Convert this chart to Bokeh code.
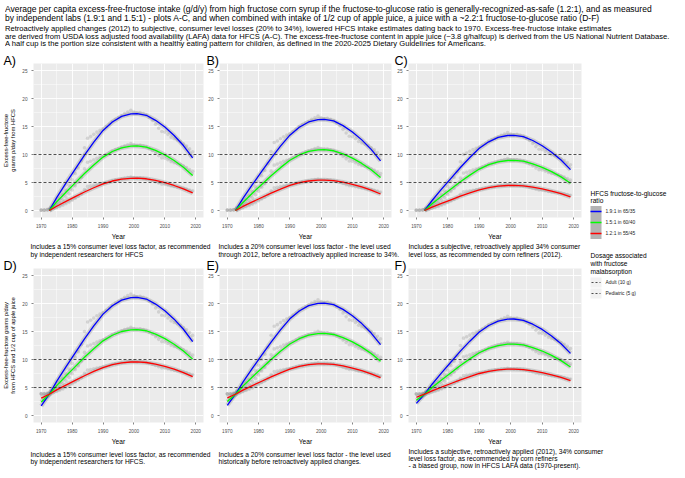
from bokeh.plotting import figure
from bokeh.models import Range1d, FixedTicker, Div, Span, Title
from bokeh.layouts import column, row
from bokeh.embed import file_html
from bokeh.resources import INLINE
from bokeh.core.properties import value

FONT = "Liberation Sans"

# ---------------- data ----------------
years = list(range(1970, 2020))
# excess-free fructose, g/day, 1.9:1 HFCS with 15% loss (panel A, blue points)
excess_19_loss15 = [0.1, 0.1, 0.2, 0.5, 0.9, 1.5, 2.1, 2.8, 3.6, 4.5,
                    5.5, 6.6, 7.6, 8.9, 11.2, 12.9, 13.2, 13.6, 14.0, 14.3,
                    14.6, 15.0, 15.4, 15.9, 16.3, 16.6, 16.9, 17.3, 17.6, 17.9,
                    17.6, 17.4, 17.5, 17.3, 17.0, 16.6, 16.1, 15.4, 14.7, 14.1,
                    14.0, 13.6, 13.1, 12.8, 12.6, 12.3, 11.9, 11.5, 11.0, 10.5]
# smoothed (loess) curve of the same series
smooth_years = [1970, 1972.6, 1975, 1978, 1981, 1984, 1987, 1990, 1993, 1996,
                1999, 2001, 2004, 2007, 2010, 2013, 2016, 2019]
smooth_19_loss15 = [-2.1, 0.0, 2.3, 4.9, 7.4, 9.9, 12.2, 14.3, 15.8, 16.8,
                    17.25, 17.3, 17.0, 16.1, 14.9, 13.4, 11.6, 9.4]

ratio_labels = ["1.9:1 in 65/35", "1.5:1 in 60/40", "1.2:1 in 55/45"]
ratio_excess_share = [0.30, 0.20, 0.10]
panel_tags = ["A)", "B)", "C)", "D)", "E)", "F)"]
panel_loss = [0.15, 0.20, 0.34, 0.15, 0.20, 0.34]
apple_juice_g = 3.8
panel_juice = [0, 0, 0, apple_juice_g, apple_juice_g, apple_juice_g]
dose_labels = ["Adult (10 g)", "Pediatric (5 g)"]
dose_levels = [10, 5]
x_limits = (1970, 2020)
y_limits = (0, 25)
x_ticks = [1970, 1980, 1990, 2000, 2010, 2020]
y_ticks = [0, 5, 10, 15, 20, 25]

captions = [
    ["Includes a 15% consumer level loss factor, as recommended",
     "by independent researchers for HFCS"],
    ["Includes a 20% consumer level loss factor - the level used",
     "through 2012, before a retroactively applied increase to 34%."],
    ["Includes a subjective, retroactively applied 34% consumer",
     "level loss, as recommended by corn refiners (2012)."],
    ["Includes a 15% consumer level loss factor, as recommended",
     "by independent researchers for HFCS."],
    ["Includes a 20% consumer level loss factor - the level used",
     "historically before retroactively applied changes."],
    ["Includes a subjective, retroactively applied (2012), 34% consumer",
     "level loss factor, as recommended by corn refiners",
     "- a biased group, now in HFCS LAFA data (1970-present)."],
]
y_titles = ["Excess-free-fructose\ngrams p/day from HFCS", None, None,
            "Excess-free-fructose grams p/day\nfrom HFCS and 1/2 cup of apple juice", None, None]
legend1_title = ["HFCS fructose-to-glucose", "ratio"]
legend2_title = ["Dosage associated", "with fructose", "malabsorption"]

title_lines = [
    "Average per capita excess-free-fructose intake (g/d/y) from high fructose corn syrup if the fructose-to-glucose ratio is generally-recognized-as-safe (1.2:1), and as measured",
    "by independent labs (1.9:1 and 1.5:1) - plots A-C, and when combined with intake of 1/2 cup of apple juice, a juice with a ~2.2:1 fructose-to-glucose ratio (D-F)",
]
subtitle_lines = [
    "Retroactively applied changes (2012) to subjective, consumer level losses (20% to 34%), lowered HFCS intake estimates dating back to 1970. Excess-free-fructose intake estimates",
    "are derived from USDA loss adjusted food availability (LAFA) data for HFCS (A-C). The excess-free-fructose content in apple juice (~3.8 g/halfcup) is derived from the US National Nutrient Database.",
    "A half cup is the portion size consistent with a healthy eating pattern for children, as defined in the 2020-2025 Dietary Guidelines for Americans.",
]

# ---------------- layout / styles ----------------
COLORS = ["#0000FF", "#00FF00", "#FF0000"]
X_PAD = (x_limits[1] - x_limits[0]) * 0.05
Y_PAD = (y_limits[1] - y_limits[0]) * 0.05
PAGE_W = 669
BORDERS = [(30, 173, 2), (13, 173, 3), (14, 173, 6)]   # left, frame, right
ROW_TOP, FRAME_H, ROW_BOTTOM = 9, 158, 21
ROW_H = ROW_TOP + FRAME_H + ROW_BOTTOM
CAP1_H, CAP2_H = 17, 24
PANELS_W = sum(l + f + r for l, f, r in BORDERS)
LEG_W = PAGE_W - PANELS_W
CAP_FONT = "6.7px"
CAP_LH = 7.4
cap_x = []
acc = 0
for l, f, r in BORDERS:
    cap_x.append(acc + l)
    acc += l + f + r


def mids(t):
    return [(a + b) / 2 for a, b in zip(t, t[1:])]


def make_panel(i):
    left, frame_w, right = BORDERS[i % 3]
    x0, x1 = x_limits[0] - X_PAD, x_limits[1] + X_PAD
    y0, y1 = y_limits[0] - Y_PAD, y_limits[1] + Y_PAD
    p = figure(width=left + frame_w + right, height=ROW_H,
               x_range=Range1d(x0, x1), y_range=Range1d(y0, y1),
               output_backend="svg", toolbar_location=None, title=None,
               min_border_left=left, min_border_right=right,
               min_border_top=ROW_TOP, min_border_bottom=ROW_BOTTOM)
    p.background_fill_color = "#EBEBEB"
    p.border_fill_color = "white"
    p.outline_line_color = None

    p.xaxis.ticker = FixedTicker(ticks=x_ticks, minor_ticks=mids(x_ticks))
    p.yaxis.ticker = FixedTicker(ticks=y_ticks, minor_ticks=mids(y_ticks))
    p.grid.grid_line_color = "white"
    p.grid.grid_line_width = 0.9
    p.grid.minor_grid_line_color = "white"
    p.grid.minor_grid_line_width = 0.45
    for ax in (p.xaxis[0], p.yaxis[0]):
        ax.axis_line_color = None
        ax.major_tick_line_color = "#333333"
        ax.major_tick_line_width = 0.6
        ax.major_tick_out = 2
        ax.major_tick_in = 0
        ax.minor_tick_line_color = None
        ax.major_label_text_font = FONT
        ax.major_label_text_font_size = "4.7px"
        ax.major_label_text_color = "#4D4D4D"
        ax.major_label_standoff = 2
        ax.axis_label_text_font = FONT
        ax.axis_label_text_font_style = "normal"
        ax.axis_label_text_color = "black"
    p.xaxis.axis_label = "Year"
    p.xaxis.axis_label_text_font_size = "6.6px"
    p.xaxis.axis_label_standoff = 2
    if y_titles[i]:
        p.yaxis.axis_label = y_titles[i]
        p.yaxis.axis_label_text_font_size = "5.8px"
        p.yaxis.axis_label_standoff = 3

    juice = panel_juice[i]
    base = (1 - panel_loss[i]) / (1 - panel_loss[0]) / ratio_excess_share[0]
    ks = [base * s for s in ratio_excess_share]
    for k in ks:
        ys = [v * k + juice for v in excess_19_loss15]
        p.scatter(years, ys, size=3.6, fill_color="#9A9A9A", fill_alpha=0.33, line_color=None)
    curves = []
    for k in ks:
        pts = [(x, v * k + juice) for x, v in zip(smooth_years, smooth_19_loss15)
               if v * k + juice >= y_limits[0]]
        curves.append(([a for a, _ in pts], [b for _, b in pts]))
    for sx, sy in curves:
        p.line(sx, sy, line_width=4.5, line_color="#8C8C8C", line_alpha=0.33)
    for (sx, sy), c in zip(curves, COLORS):
        p.line(sx, sy, line_width=1.3, line_color=c)

    for lvl in dose_levels:
        p.add_layout(Span(location=lvl, dimension="width", line_color="#222222",
                          line_width=0.8, line_dash="3 2"))

    p.add_layout(Title(text=panel_tags[i], align="left", offset=-left, standoff=-8,
                       text_font=FONT, text_font_size="12.5px",
                       text_font_style="normal", text_color="black"), "above")
    return p


def blank_fig(w, h):
    q = figure(width=w, height=h, x_range=Range1d(0, w), y_range=Range1d(h, 0),
               output_backend="svg", toolbar_location=None, title=None,
               x_axis_type=None, y_axis_type=None,
               min_border_left=0, min_border_right=0, min_border_top=0, min_border_bottom=0)
    q.outline_line_color = None
    q.background_fill_color = "white"
    q.border_fill_color = "white"
    return q


def caption_strip(panel_ids, width, height, first_y):
    q = blank_fig(width, height)
    xs, ys, ts = [], [], []
    for i in panel_ids:
        y_start = first_y - (CAP_LH * 0.4 if len(captions[i]) > 2 else 0)
        for j, line in enumerate(captions[i]):
            xs.append(cap_x[i % 3])
            ys.append(y_start + CAP_LH * j)
            ts.append(line)
    q.text(x=xs, y=ys, text=ts, text_font=value(FONT), text_font_size=CAP_FONT,
           text_baseline="middle", text_align="left", text_color="black")
    return q


figs = [make_panel(i) for i in range(6)]
cap1 = caption_strip([0, 1, 2], PANELS_W, CAP1_H, 4.2)
cap2 = caption_strip([3, 4, 5], PAGE_W, CAP2_H, 6.6)

# ---------------- legend column ----------------
LEG_H = 2 * ROW_H + CAP1_H
leg = blank_fig(LEG_W, LEG_H)
KX0, KW = 3, 11
ROW_STEP = 11
t1_y = 139
leg.text(x=[KX0] * len(legend1_title), y=[t1_y + 7 * j for j in range(len(legend1_title))],
         text=legend1_title, text_font=value(FONT), text_font_size="6.6px",
         text_baseline="middle", text_color="black")
k1_y = [t1_y + 18 + ROW_STEP * j for j in range(len(ratio_labels))]
leg.quad(left=[KX0] * len(k1_y), right=[KX0 + KW] * len(k1_y),
         top=[y - ROW_STEP / 2 for y in k1_y], bottom=[y + ROW_STEP / 2 for y in k1_y],
         fill_color="#B3B3B3", line_color=None)
leg.segment(x0=[KX0] * len(k1_y), x1=[KX0 + KW] * len(k1_y), y0=k1_y, y1=k1_y,
            line_color=COLORS, line_width=1.5)
leg.text(x=[KX0 + KW + 4] * len(k1_y), y=k1_y, text=ratio_labels, text_font=value(FONT),
         text_font_size="4.9px", text_baseline="middle", text_color="#1A1A1A")

t2_y = 201
leg.text(x=[KX0] * len(legend2_title), y=[t2_y + 8 * j for j in range(len(legend2_title))],
         text=legend2_title, text_font=value(FONT), text_font_size="6.6px",
         text_baseline="middle", text_color="black")
k2_y = [t2_y + 27 + ROW_STEP * j for j in range(len(dose_labels))]
leg.quad(left=[KX0] * len(k2_y), right=[KX0 + KW] * len(k2_y),
         top=[y - ROW_STEP / 2 + 0.5 for y in k2_y], bottom=[y + ROW_STEP / 2 - 0.5 for y in k2_y],
         fill_color="#F2F2F2", line_color=None)
leg.segment(x0=[KX0 + 1] * len(k2_y), x1=[KX0 + KW - 1] * len(k2_y), y0=k2_y, y1=k2_y,
            line_color="#222222", line_width=0.8, line_dash="2 2")
leg.text(x=[KX0 + KW + 4] * len(k2_y), y=k2_y, text=dose_labels, text_font=value(FONT),
         text_font_size="4.9px", text_baseline="middle", text_color="#1A1A1A")

title_html = (
    f'<div style="font-family:\'{FONT}\';color:#000;white-space:nowrap;">'
    f'<div style="font-size:8.5px;line-height:8.8px;">' + "<br>".join(title_lines) + '</div>'
    f'<div style="font-size:7.6px;line-height:7.6px;margin-top:2.5px;">' + "<br>".join(subtitle_lines) + '</div>'
    '</div>'
)
title_div = Div(text=title_html, width=PAGE_W, height=44, styles={"overflow": "hidden"})

layout = column(
    title_div,
    row(
        column(row(figs[0], figs[1], figs[2]), cap1, row(figs[3], figs[4], figs[5])),
        leg,
    ),
    cap2,
)

open("out.html", "w").write(file_html(layout, INLINE))
